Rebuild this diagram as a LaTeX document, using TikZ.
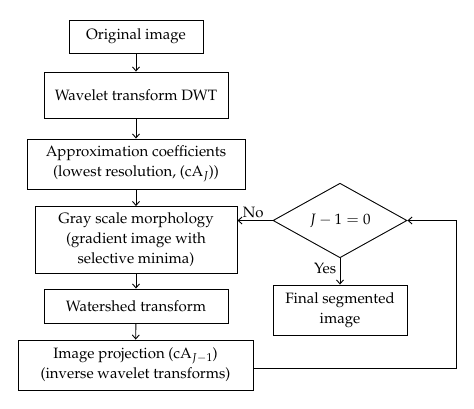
\documentclass[tikz,border=0pt]{standalone}
\usepackage[T1]{fontenc}
\usepackage{mathpazo}
\usepackage{tikz}
\usetikzlibrary{shapes,shapes.geometric,calc,positioning,arrows.meta}

\begin{document}
\begin{tikzpicture}
	[x=1pt,y=-1pt,line width=0.9pt,>={Straight Barb[length=4pt,width=7pt]},
	every node/.style={font=\fontsize{15}{20}\selectfont,align=center},
	box/.style={draw,rectangle,inner sep=2pt},
	decide/.style={draw,diamond,inner sep=0pt,minimum width=134pt,minimum height=71pt}]
	\useasboundingbox (0,0) rectangle (474,409);
	\node[box,minimum width=134pt,minimum height=33pt] (orig) at (136,36.5) {Original image};
	\node[box,minimum width=184pt,minimum height=46pt] (dwt) at (136,95) {Wavelet transform DWT};
	\node[box,minimum width=218pt,minimum height=50pt] (approx) at (136,164) {Approximation coefficients\\(lowest resolution, (cA$_J$))};
	\node[box,minimum width=202pt,minimum height=67pt] (gray) at (136,240) {Gray scale morphology\\(gradient image with\\selective minima)};
	\node[box,minimum width=184pt,minimum height=34pt] (water) at (136,306) {Watershed transform};
	\node[box,minimum width=235pt,minimum height=50pt] (proj) at (135.5,365) {Image projection (cA$_{J-1}$)\\(inverse wavelet transforms)};
	\node[decide] (test) at (340,220.5) {$J-1=0$};
	\node[box,minimum width=134pt,minimum height=50pt] (final) at (340,310) {Final segmented\\image};
	\coordinate (c1) at (456,368);
	\coordinate (c2) at (456,220.5);

	\path
	\foreach \startNode/\endNode in {orig/dwt,dwt/approx,approx/gray,gray/water,water/proj}
	{
		(\startNode) edge[->] (\endNode)
	};
	\draw[->] (test.west) -- node[above,pos=0.55,yshift=-1pt]{No} (test.west -| gray.east);
	\draw[->] (test.south) -- node[left,pos=0.4]{Yes} (final.north);
	\draw[->] (proj.east |- c1) -- (c1) -- (c2) -- (test.east);
\end{tikzpicture}
\end{document}
